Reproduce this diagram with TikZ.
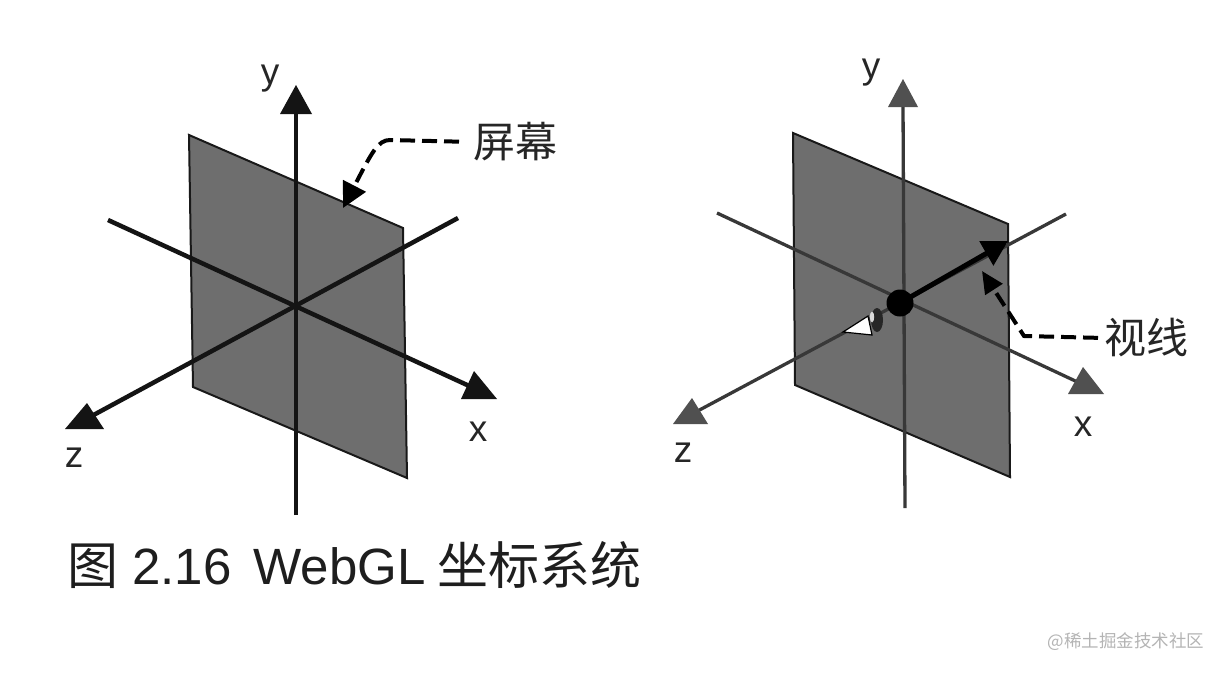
\documentclass[tikz,border=0pt]{standalone}
\usepackage{fontspec}
\setmainfont{Liberation Sans}
\newfontfamily\cjk{Noto Sans CJK SC}
\usetikzlibrary{arrows.meta}
\definecolor{plane}{HTML}{6E6E6E}
\definecolor{rline}{HTML}{383838}
\definecolor{rheadc}{HTML}{505050}
\definecolor{wmc}{HTML}{B4B4B4}
\definecolor{capc}{HTML}{1E1E1E}
\begin{document}
\begin{tikzpicture}[x=1pt,y=-1pt,
  screen/.style={fill=plane,draw=black!90,line width=2pt,line join=miter},
  laxis/.style={line width=4.5pt,black!92},
  raxis/.style={line width=3.3pt,rline},
  lhead/.style={fill=black!92},
  rhead/.style={fill=rheadc},
  axlabel/.style={inner sep=0pt,font=\fontsize{37}{40}\selectfont,text=black!85},
  cjklabel/.style={inner sep=0pt,font=\cjk\fontsize{42}{48}\selectfont,text=black!85},
  pointer/.style={line width=4pt,black,dash pattern=on 15pt off 7pt}]
\useasboundingbox (0,0) rectangle (1226,672);
\fill[white] (0,0) rectangle (1226,672);

% ---------------- left figure ----------------
\draw[screen] (189,135) -- (403,228) -- (407,478) -- (193,387) -- cycle;
\coordinate (LyB) at (296,515);
\coordinate (LyT) at (296,104);
\coordinate (LxS) at (108,220);
\coordinate (LxE) at (478,390);
\coordinate (LzS) at (458,218);
\coordinate (LzE) at (88,418);
\draw[laxis] (LyB) -- (LyT);
\draw[laxis] (LxS) -- (LxE);
\draw[laxis] (LzS) -- (LzE);
\fill[lhead] (296,85) -- (280,114) -- (312,114) -- cycle;
\fill[lhead] (474,371) -- (461,399) -- (497,399) -- cycle;
\fill[lhead] (65,429) -- (87,403) -- (104,429) -- cycle;
\node[axlabel] (Ly) at (270,79) {y};
\node[axlabel] (Lx) at (478,432) {x};
\node[axlabel] (Lz) at (74,458) {z};
\node[cjklabel,anchor=west] (screenlbl) at (473,142) {屏幕};
\coordinate (scrTip) at (343,208);
\draw[pointer,shorten <=14pt,-{Triangle[length=25pt,width=25pt]}] (screenlbl.west) -- (390,140) .. controls (378,140) and (372,152) .. (scrTip);

% ---------------- right figure ----------------
\draw[screen] (793,133) -- (1008,224) -- (1010,477) -- (795,385) -- cycle;
\coordinate (RyB) at (905,508);
\coordinate (RyT) at (903,104);
\coordinate (RxS) at (717,213);
\coordinate (RxE) at (1086,386);
\coordinate (RzS) at (1066,214);
\coordinate (RzE) at (692,414);
\draw[raxis] (RyB) -- (RyT);
\draw[raxis] (RxS) -- (RxE);
\draw[raxis] (RzS) -- (RzE);
\fill[rhead] (903,79) -- (888,107) -- (918,107) -- cycle;
\fill[rhead] (1083,367) -- (1068,394) -- (1104,394) -- cycle;
\fill[rhead] (673,424) -- (692,398) -- (708,424) -- cycle;
\node[axlabel] (Ry) at (871,73) {y};
\node[axlabel] (Rx) at (1083,427) {x};
\node[axlabel] (Rz) at (683,453) {z};
% eye
\fill[white] (843,332) -- (868,316) -- (872,335) -- cycle;
\draw[black,line width=1.2pt] (843,332) -- (868,316) -- (872,335) -- cycle;
\fill[black!85] (877,320) ellipse [x radius=6, y radius=12];
\fill[white!70!gray] (872,317) ellipse [x radius=2.2, y radius=5.5];
% view point and line of sight
\node[circle,fill=black,minimum size=27pt,inner sep=0pt] (dot) at (900,303) {};
\coordinate (sightTip) at (1008,241);
\draw[line width=5pt,black,-{Triangle[length=25pt,width=27pt]}] (dot.center) -- (sightTip);
\node[cjklabel,anchor=west] (sightlbl) at (1104,338) {视线};
\coordinate (sightPtr) at (982,271);
\draw[pointer,shorten <=6pt,-{Triangle[length=22pt,width=20pt]}] (sightlbl.west) -- (1024,336) -- (sightPtr);

% ---------------- caption & watermark ----------------
\node[anchor=base west,inner sep=0pt,text=capc,font=\fontsize{51}{60}\selectfont] (caption) at (67,584)
  {{\cjk 图}\hspace{14pt}2.16\hspace{22pt}WebGL\hspace{12pt}{\cjk 坐标系统}};
\node[inner sep=0pt,text=wmc,font=\cjk\fontsize{17.5}{20}\selectfont] (wm) at (1126,642) {@稀土掘金技术社区};
\end{tikzpicture}
\end{document}
